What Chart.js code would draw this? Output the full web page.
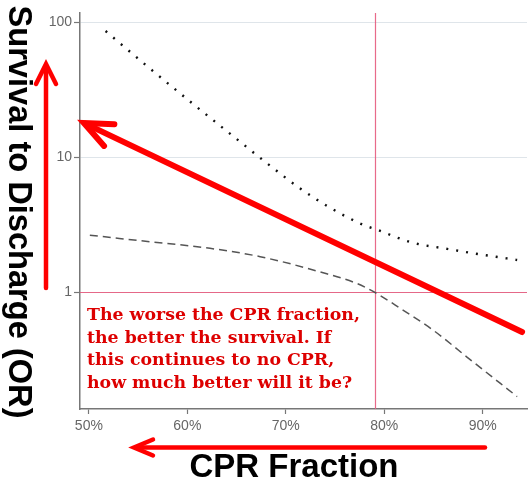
<!DOCTYPE html>
<html>
<head>
<meta charset="utf-8">
<script src="https://cdn.jsdelivr.net/npm/chart.js@4.4.1/dist/chart.umd.min.js"></script>
<style>
  html, body { margin: 0; padding: 0; background: #fff; }
  #wrap { width: 531px; height: 486px; }
</style>
</head>
<body>
<div id="wrap"><canvas id="orChart"></canvas></div>
<script>
// CPR fraction (%) vs odds ratio for survival
var upperCpr = [51.7, 55.8, 60.7, 64.4, 68.1, 71.4, 74.3, 77.9, 79.2, 82.8, 86.4, 89.6, 93.5];
var upperOR  = [86, 48, 24.4, 14.8, 9.0, 5.9, 4.3, 3.14, 2.91, 2.33, 2.09, 1.91, 1.73];

var lowerCpr = [50.1, 56.2, 62.3, 67.4, 73.5, 77.2, 79.2, 81.6, 85.0, 88.4, 93.5];
var lowerOR  = [2.64, 2.36, 2.11, 1.83, 1.41, 1.16, 0.98, 0.76, 0.52, 0.33, 0.168];

var xTicks = [50, 60, 70, 80, 90];
var yTicks = [1, 10, 100];

var refCpr = 79.1;   // vertical reference line
var refOR = 1;       // horizontal reference line

var noteLines = [
    'The worse the CPR fraction,',
    'the better the survival. If',
    'this continues to no CPR,',
    'how much better will it be?'
];

function toPoints(xs, ys) {
    return xs.map(function(x, i) { return { x: x, y: ys[i] }; });
}

function arrow(ctx, x1, y1, x2, y2, w, headLen, headHalf) {
    var a = Math.atan2(y2 - y1, x2 - x1);
    ctx.save();
    ctx.strokeStyle = '#ff0000';
    ctx.lineWidth = w;
    ctx.lineCap = 'round';
    ctx.lineJoin = 'miter';
    ctx.beginPath();
    ctx.moveTo(x1, y1);
    ctx.lineTo(x2 - Math.cos(a) * 2, y2 - Math.sin(a) * 2);
    ctx.stroke();
    // chevron head
    var bx = x2 - Math.cos(a) * headLen, by = y2 - Math.sin(a) * headLen;
    var px = -Math.sin(a) * headHalf, py = Math.cos(a) * headHalf;
    ctx.beginPath();
    ctx.moveTo(bx + px, by + py);
    ctx.lineTo(x2, y2);
    ctx.lineTo(bx - px, by - py);
    ctx.stroke();
    ctx.restore();
}

var extras = {
    id: 'extras',
    beforeDatasetsDraw: function(chart) {
        var ctx = chart.ctx, a = chart.chartArea;
        var xs = chart.scales.x, ys = chart.scales.y;
        var vx = Math.round(xs.getPixelForValue(refCpr)) + 0.5;
        var hy = Math.round(ys.getPixelForValue(refOR)) + 0.5;
        ctx.save();
        ctx.strokeStyle = 'rgba(230, 90, 125, 0.9)';
        ctx.lineWidth = 1.2;
        ctx.beginPath();
        ctx.moveTo(vx, a.top);
        ctx.lineTo(vx, a.bottom);
        ctx.moveTo(a.left, hy);
        ctx.lineTo(a.right, hy);
        ctx.stroke();
        ctx.restore();
    },
    afterDraw: function(chart) {
        var ctx = chart.ctx, a = chart.chartArea;
        var xs = chart.scales.x, ys = chart.scales.y;

        // axis titles (y title reads top to bottom)
        ctx.save();
        ctx.fillStyle = '#000';
        ctx.font = 'bold 33px "Liberation Sans", Arial, sans-serif';
        var yt = 'Survival to Discharge (OR)';
        var sy = 413 / ctx.measureText(yt).width;
        ctx.translate(9, 212);
        ctx.rotate(Math.PI / 2);
        ctx.scale(sy, 1);
        ctx.textAlign = 'center';
        ctx.textBaseline = 'alphabetic';
        ctx.fillText(yt, 0, 0);
        ctx.restore();

        ctx.save();
        ctx.fillStyle = '#000';
        ctx.font = 'bold 33px "Liberation Sans", Arial, sans-serif';
        ctx.textAlign = 'center';
        ctx.textBaseline = 'alphabetic';
        ctx.fillText('CPR Fraction', 294, 477);
        ctx.restore();

        // note text
        ctx.save();
        ctx.fillStyle = '#dd0000';
        ctx.font = 'bold 17px "DejaVu Serif", Georgia, serif';
        var sx = 273 / ctx.measureText(noteLines[0]).width;
        ctx.translate(a.left + 7, 0);
        ctx.scale(sx, 1);
        noteLines.forEach(function(t, i) {
            ctx.fillText(t, 0, 320 + i * 22.7);
        });
        ctx.restore();

        // red arrows
        arrow(ctx, 46, 288, 46, 64, 4.5, 20, 10);
        arrow(ctx, xs.getPixelForValue(94.0), ys.getPixelForValue(0.506),
                   xs.getPixelForValue(49.5), ys.getPixelForValue(17.9), 6, 28, 12);
        arrow(ctx, 485, 447.5, 134, 447.5, 4.5, 19, 8);
    }
};

document.addEventListener('DOMContentLoaded', function() {
    var ctx = document.getElementById('orChart').getContext('2d');
    var orChart = new Chart(ctx, {
        type: 'line',
        data: {
            datasets: [{
                label: 'Upper',
                data: toPoints(upperCpr, upperOR),
                borderColor: '#111',
                borderWidth: 2.4,
                borderDash: [2, 8],
                pointRadius: 0,
                cubicInterpolationMode: 'monotone',
                fill: false
            }, {
                label: 'Lower',
                data: toPoints(lowerCpr, lowerOR),
                borderColor: '#555',
                borderWidth: 1.5,
                borderDash: [8, 5],
                pointRadius: 0,
                cubicInterpolationMode: 'monotone',
                fill: false
            }]
        },
        options: {
            responsive: true,
            maintainAspectRatio: false,
            animation: false,
            layout: { padding: { top: 13, right: 4, left: 0, bottom: 0 } },
            plugins: {
                legend: { display: false },
                tooltip: { enabled: false }
            },
            scales: {
                x: {
                    type: 'linear',
                    min: 49.1,
                    max: 94.5,
                    afterBuildTicks: function(s) { s.ticks = xTicks.map(function(v) { return { value: v }; }); },
                    afterFit: function(s) { s.height = 77; },
                    border: { color: '#777', width: 1.5 },
                    grid: { drawOnChartArea: false, tickLength: 5, tickColor: '#777', tickWidth: 1.2 },
                    ticks: {
                        color: '#666',
                        padding: 4,
                        font: { family: '"Liberation Sans", Arial, sans-serif', size: 14 },
                        callback: function(v) { return v + '%'; }
                    }
                },
                y: {
                    type: 'logarithmic',
                    min: 0.136,
                    max: 117,
                    afterBuildTicks: function(s) { s.ticks = yTicks.map(function(v) { return { value: v }; }); },
                    afterFit: function(s) { s.width = 80; },
                    border: { color: '#777', width: 1.5 },
                    grid: { color: '#dfe5ea', tickLength: 6, tickColor: '#777', tickWidth: 1.2 },
                    ticks: {
                        color: '#666',
                        padding: 2,
                        font: { family: '"Liberation Sans", Arial, sans-serif', size: 14 },
                        callback: function(v) { return String(v); }
                    }
                }
            }
        },
        plugins: [extras]
    });
});
</script>
</body>
</html>
